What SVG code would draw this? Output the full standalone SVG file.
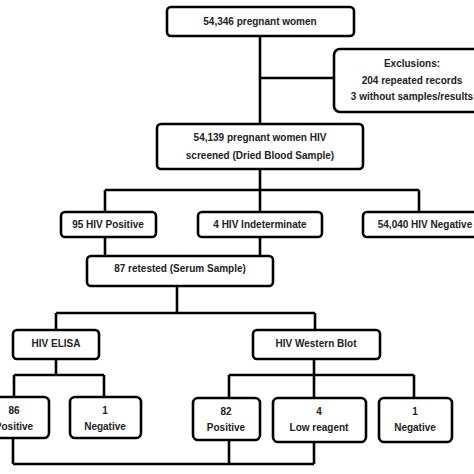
<svg xmlns="http://www.w3.org/2000/svg" width="474" height="474" viewBox="0 0 474 474">
<style>
.box{fill:#fff;stroke:#000;stroke-width:2.6}
.ln{fill:none;stroke:#000;stroke-width:2.6}
text{font-family:"Liberation Sans",Arial,sans-serif;font-weight:bold;font-size:10px;fill:#222;text-anchor:middle}
</style>
<rect width="474" height="474" fill="#fff"/>
<g id="connectors">
<path class="ln" d="M260,36V124M260,78H334"/>
<path class="ln" d="M260,169V190M105,190H419M105,190V212M260,190V212M419,190V212"/>
<path class="ln" d="M105,237V256M260,237V256"/>
<path class="ln" d="M177,286V313M56,313H315M56,313V330M315,313V330"/>
<path class="ln" d="M56,359V375M14,375H104M14,375V397M104,375V397"/>
<path class="ln" d="M314,359V375M229,375H414M229,375V398M314,375V398M414,375V398"/>
<path class="ln" d="M13,438V464M13,464H314M229,440V464M314,442V464"/>
</g>
<g id="n1"><rect class="box" x="167" y="7" width="187" height="29" rx="4"/><text x="260" y="25">54,346 pregnant women</text></g>
<g id="n2"><rect class="box" x="334" y="49" width="160" height="63" rx="6"/><text x="412" y="67">Exclusions:</text><text x="412" y="84">204 repeated records</text><text x="412" y="100">3 without samples/results</text></g>
<g id="n3"><rect class="box" x="157" y="124" width="206" height="45" rx="4"/><text x="260" y="141">54,139 pregnant women HIV</text><text x="260" y="159">screened (Dried Blood Sample)</text></g>
<g id="n4"><rect class="box" x="61" y="212" width="95" height="25" rx="4"/><text x="108" y="228">95 HIV Positive</text></g>
<g id="n5"><rect class="box" x="198" y="212" width="124" height="25" rx="4"/><text x="260" y="228">4 HIV Indeterminate</text></g>
<g id="n6"><rect class="box" x="363" y="212" width="125" height="25" rx="4"/><text x="425" y="228">54,040 HIV Negative</text></g>
<g id="n7"><rect class="box" x="87" y="256" width="186" height="30" rx="4"/><text x="180" y="272">87 retested (Serum Sample)</text></g>
<g id="n8"><rect class="box" x="13" y="330" width="86" height="29" rx="4"/><text x="56" y="347">HIV ELISA</text></g>
<g id="n9"><rect class="box" x="253" y="330" width="127" height="29" rx="4"/><text x="316" y="347">HIV Western Blot</text></g>
<g id="n10"><rect class="box" x="-22" y="397" width="71" height="41" rx="5"/><text x="14" y="414">86</text><text x="14" y="430">Positive</text></g>
<g id="n11"><rect class="box" x="70" y="397" width="71" height="41" rx="5"/><text x="105" y="414">1</text><text x="105" y="430">Negative</text></g>
<g id="n12"><rect class="box" x="193" y="398" width="67" height="42" rx="5"/><text x="226" y="415">82</text><text x="226" y="431">Positive</text></g>
<g id="n13"><rect class="box" x="273" y="398" width="93" height="44" rx="5"/><text x="319" y="415">4</text><text x="319" y="431">Low reagent</text></g>
<g id="n14"><rect class="box" x="379" y="398" width="73" height="44" rx="5"/><text x="415" y="415">1</text><text x="415" y="431">Negative</text></g>
</svg>
